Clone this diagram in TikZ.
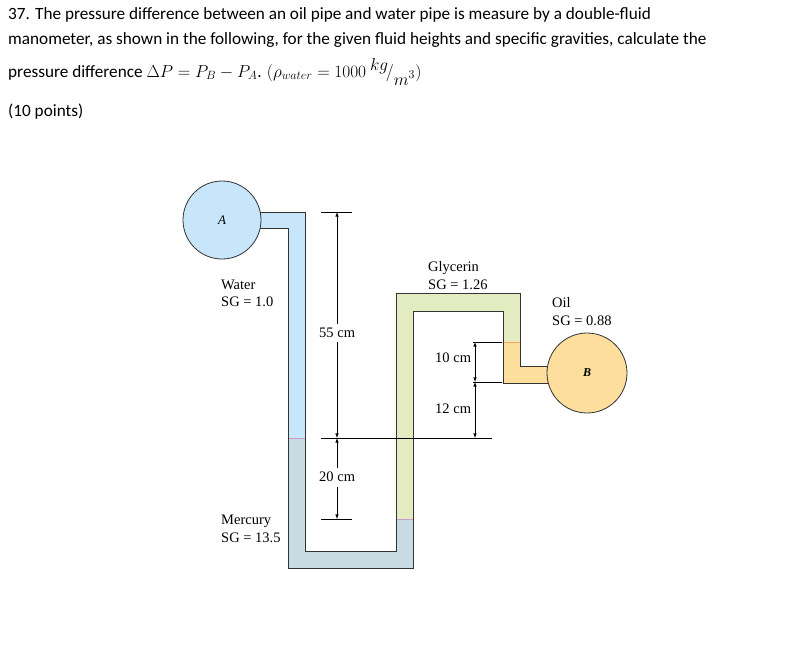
\documentclass[tikz,border=0pt]{standalone}
\usepackage{fontspec}
\setmainfont{Carlito}
\newfontfamily\tms{Liberation Serif}
\begin{document}
\begin{tikzpicture}[x=1pt,y=-1pt,
  lbl/.style={font=\tms\fontsize{14.5}{16}\selectfont,anchor=west,inner sep=0},
  ttl/.style={font=\fontsize{17.2}{20}\selectfont,anchor=west,inner sep=0},
  dim/.style={line width=0.6pt},
  wall/.style={line width=0.8pt,draw=black!80}]
\definecolor{wat}{RGB}{200,230,250}
\definecolor{merc}{RGB}{200,218,226}
\definecolor{gly}{RGB}{226,236,192}
\definecolor{oil}{RGB}{253,222,156}
\useasboundingbox (0,0) rectangle (805,665);
% title
\node[ttl] (t1) at (8,15) {37. The pressure difference between an oil pipe and water pipe is measure by a double-fluid};
\node[ttl] (t2) at (8,40) {manometer, as shown in the following, for the given fluid heights and specific gravities, calculate the};
\node[ttl] (t3) at (8,72) {pressure difference $\Delta P=P_B-P_A$. $(\rho_{water}=1000\ {}^{\textstyle kg}\!\big/_{\textstyle m^3})$};
\node[ttl] (t4) at (8,112) {(10 points)};
% fills
\fill[wat] (250,212) rectangle (305,228);
\fill[wat] (288,212) rectangle (305,438);
\fill[merc] (288,438) rectangle (305,568);
\fill[merc] (288,551) rectangle (413,568);
\fill[merc] (396,519) rectangle (413,568);
\fill[gly] (396,293) rectangle (413,519);
\fill[gly] (396,293) rectangle (520,311);
\fill[gly] (503,293) rectangle (520,342);
\fill[oil] (503,342) rectangle (520,383);
\fill[oil] (515,366) rectangle (555,383);
\draw[draw=violet!40,line width=0.5pt] (288,438) -- (305,438) (396,519) -- (413,519);
\draw[draw=orange!70,line width=0.5pt] (503,342) -- (520,342);
% circles
\node[circle,draw=black!80,fill=wat,minimum size=78pt,line width=0.8pt,inner sep=0,font=\tms\itshape\fontsize{13}{14}\selectfont] (A) at (222,220) {A};
\node[circle,draw=black!80,fill=oil,minimum size=80pt,line width=0.8pt,inner sep=0,font=\tms\itshape\bfseries\fontsize{12}{14}\selectfont] (B) at (587,373) {B};
% walls
\draw[wall] (260,212) -- (305,212) -- (305,551) -- (396,551) -- (396,293) -- (520,293) -- (520,366) -- (548,366);
\draw[wall] (260,228) -- (288,228) -- (288,568) -- (413,568) -- (413,311) -- (503,311) -- (503,383) -- (548,383);
% dimensions
\draw[dim] (321,212) -- (352,212);
\draw[dim] (321,438) -- (492,438);
\draw[dim] (321,519) -- (352,519);
\draw[dim] (473,342) -- (502,342);
\draw[dim] (473,382) -- (502,382);
\node[lbl,fill=white,inner sep=1pt] (d55) at (318,333) {55 cm};
\node[lbl,fill=white,inner sep=1pt] (d20) at (318,477) {20 cm};
\draw[dim,-latex] (337,324) -- (337,212);
\draw[dim,-latex] (337,342) -- (337,438);
\draw[dim,-latex] (337,468) -- (337,438);
\draw[dim,-latex] (337,487) -- (337,519);
\draw[dim,latex-latex] (475,342) -- (475,382);
\draw[dim,latex-latex] (475,382) -- (475,438);
\node[lbl] (d10) at (435,358) {10 cm};
\node[lbl] (d12) at (435,409) {12 cm};
% labels
\node[lbl] (w1) at (221,285) {Water};
\node[lbl] (w2) at (221,302) {SG = 1.0};
\node[lbl] (g1) at (428,268) {Glycerin};
\node[lbl] (g2) at (428,285) {SG = 1.26};
\node[lbl] (o1) at (552,303) {Oil};
\node[lbl] (o2) at (552,321) {SG = 0.88};
\node[lbl] (m1) at (221,521) {Mercury};
\node[lbl] (m2) at (221,538) {SG = 13.5};
\end{tikzpicture}
\end{document}
